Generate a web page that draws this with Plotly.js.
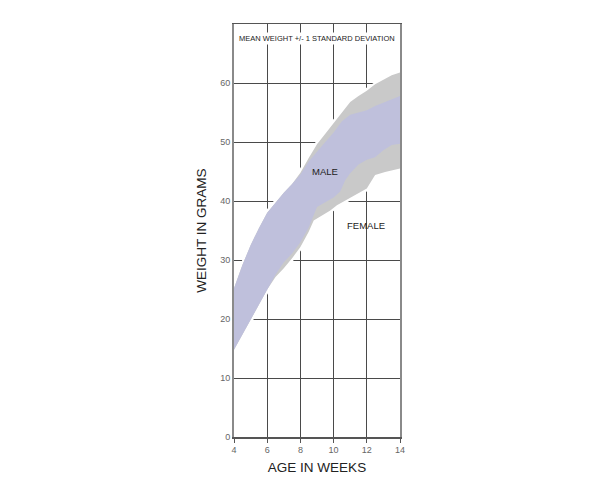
<!DOCTYPE html>
<html>
<head>
<meta charset="utf-8">
<script src="https://cdn.plot.ly/plotly-3.0.1.min.js"></script>
<style>html,body{margin:0;padding:0;background:#fff;}#chart{width:605px;height:500px;}</style>
</head>
<body>
<div id="chart"></div>
<script>
// Outer envelope (grey) upper edge: mean + 1 SD, upper sex
var outerUpperWeeks = [4, 4.5, 5, 5.5, 6, 7, 7.5, 8, 8.5, 9, 9.5, 10, 10.5, 11, 11.5, 12, 12.5, 13, 13.5, 14];
var outerUpperGrams = [25.2, 29.1, 32.5, 35.4, 38.0, 41.4, 42.9, 44.8, 47.3, 49.6, 51.4, 53.2, 55.2, 56.8, 57.8, 58.7, 59.8, 60.6, 61.3, 61.8];
// Outer envelope (grey) lower edge
var outerLowerWeeks = [4, 4.5, 5, 5.5, 6, 6.5, 7, 7.5, 8, 8.5, 8.8, 9.8, 10.2, 11.1, 12, 12.5, 13.1, 14];
var outerLowerGrams = [14.8, 17.3, 19.8, 22.4, 25.0, 27.1, 28.6, 30.3, 32.2, 34.8, 36.7, 38.4, 39.3, 40.7, 42.1, 44.4, 44.9, 45.5];
// Overlap band (purple) upper edge
var bandUpperWeeks = [4, 4.5, 5, 5.5, 6, 7, 7.5, 8, 8.5, 9, 9.5, 10, 10.5, 11, 11.5, 12, 12.5, 13, 13.5, 14];
var bandUpperGrams = [25.2, 29.1, 32.5, 35.4, 38.0, 41.4, 42.9, 44.5, 46.7, 48.4, 50.0, 51.6, 53.5, 54.6, 55.0, 55.4, 56.1, 56.7, 57.3, 57.8];
// Overlap band (purple) lower edge
var bandLowerWeeks = [4, 4.5, 5, 5.5, 6, 6.5, 7, 7.5, 8, 8.5, 9, 9.5, 10, 10.4, 10.7, 11, 11.5, 12, 12.5, 13, 13.5, 14];
var bandLowerGrams = [14.8, 17.3, 19.8, 22.4, 25.0, 27.5, 29.6, 31.1, 33.0, 35.5, 39.0, 39.8, 40.6, 41.6, 43.5, 44.7, 46.2, 47.0, 47.4, 48.6, 49.5, 49.7];

var xTicks = [4, 6, 8, 10, 12, 14];
var yTicks = [0, 10, 20, 30, 40, 50, 60];
var labelText = ["MALE", "FEMALE"];
var labelWeeks = [9.46, 11.93];
var labelGrams = [45.0, 35.8];

function polygon(ux, uy, lx, ly) {
  var x = ux.slice(), y = uy.slice();
  for (var i = lx.length - 1; i >= 0; i--) { x.push(lx[i]); y.push(ly[i]); }
  x.push(ux[0]); y.push(uy[0]);
  return {x: x, y: y};
}
var outer = polygon(outerUpperWeeks, outerUpperGrams, outerLowerWeeks, outerLowerGrams);
var band = polygon(bandUpperWeeks, bandUpperGrams, bandLowerWeeks, bandLowerGrams);

var traces = [
  {x: outer.x, y: outer.y, type: 'scatter', mode: 'lines', fill: 'toself',
   fillcolor: '#ffffff', line: {color: '#ffffff', width: 5}, hoverinfo: 'skip', showlegend: false},
  {x: outer.x, y: outer.y, type: 'scatter', mode: 'lines', fill: 'toself',
   fillcolor: '#c9c9c9', line: {width: 0}, showlegend: false},
  {x: band.x, y: band.y, type: 'scatter', mode: 'lines', fill: 'toself',
   fillcolor: '#bfc0dc', line: {width: 0}, showlegend: false}
];

var annotations = [{
  text: 'MEAN WEIGHT +/- 1 STANDARD DEVIATION', xref: 'paper', yref: 'y', x: 0.5, y: 67.6,
  showarrow: false, font: {family: 'Liberation Sans, Arial, sans-serif', size: 7.5, color: '#222'},
  bgcolor: '#ffffff', borderpad: 1
}];
for (var i = 0; i < labelText.length; i++) {
  annotations.push({text: labelText[i], x: labelWeeks[i], y: labelGrams[i], xref: 'x', yref: 'y',
    showarrow: false, font: {family: 'Liberation Sans, Arial, sans-serif', size: 9.5, color: '#222'}});
}

var layout = {
  width: 605, height: 500,
  margin: {l: 234, r: 205, t: 24, b: 63, pad: 0},
  paper_bgcolor: '#ffffff', plot_bgcolor: '#ffffff',
  font: {family: 'Liberation Sans, Arial, sans-serif'},
  showlegend: false,
  xaxis: {
    range: [4, 14], tickvals: xTicks, ticktext: xTicks.map(String),
    showgrid: true, gridcolor: '#4a4a4a', gridwidth: 1,
    zeroline: false, showline: true, linecolor: '#555', linewidth: 1.5, mirror: true,
    ticks: 'outside', ticklen: 4, tickcolor: '#555', tickwidth: 1,
    tickfont: {size: 9, color: '#666'},
    title: {text: 'AGE IN WEEKS', font: {size: 13.5, color: '#222'}, standoff: 8},
    fixedrange: true
  },
  yaxis: {
    range: [0, 70], tickvals: yTicks, ticktext: yTicks.map(String),
    showgrid: true, gridcolor: '#4a4a4a', gridwidth: 1,
    zeroline: false, showline: true, linecolor: '#8a8a8a', linewidth: 2, mirror: true,
    ticks: '', tickfont: {size: 9, color: '#666'},
    title: {text: 'WEIGHT IN GRAMS', font: {size: 13.5, color: '#222'}, standoff: 10},
    fixedrange: true
  },
  annotations: annotations
};

Plotly.newPlot('chart', traces, layout, {displayModeBar: false, staticPlot: true});
</script>
</body>
</html>
